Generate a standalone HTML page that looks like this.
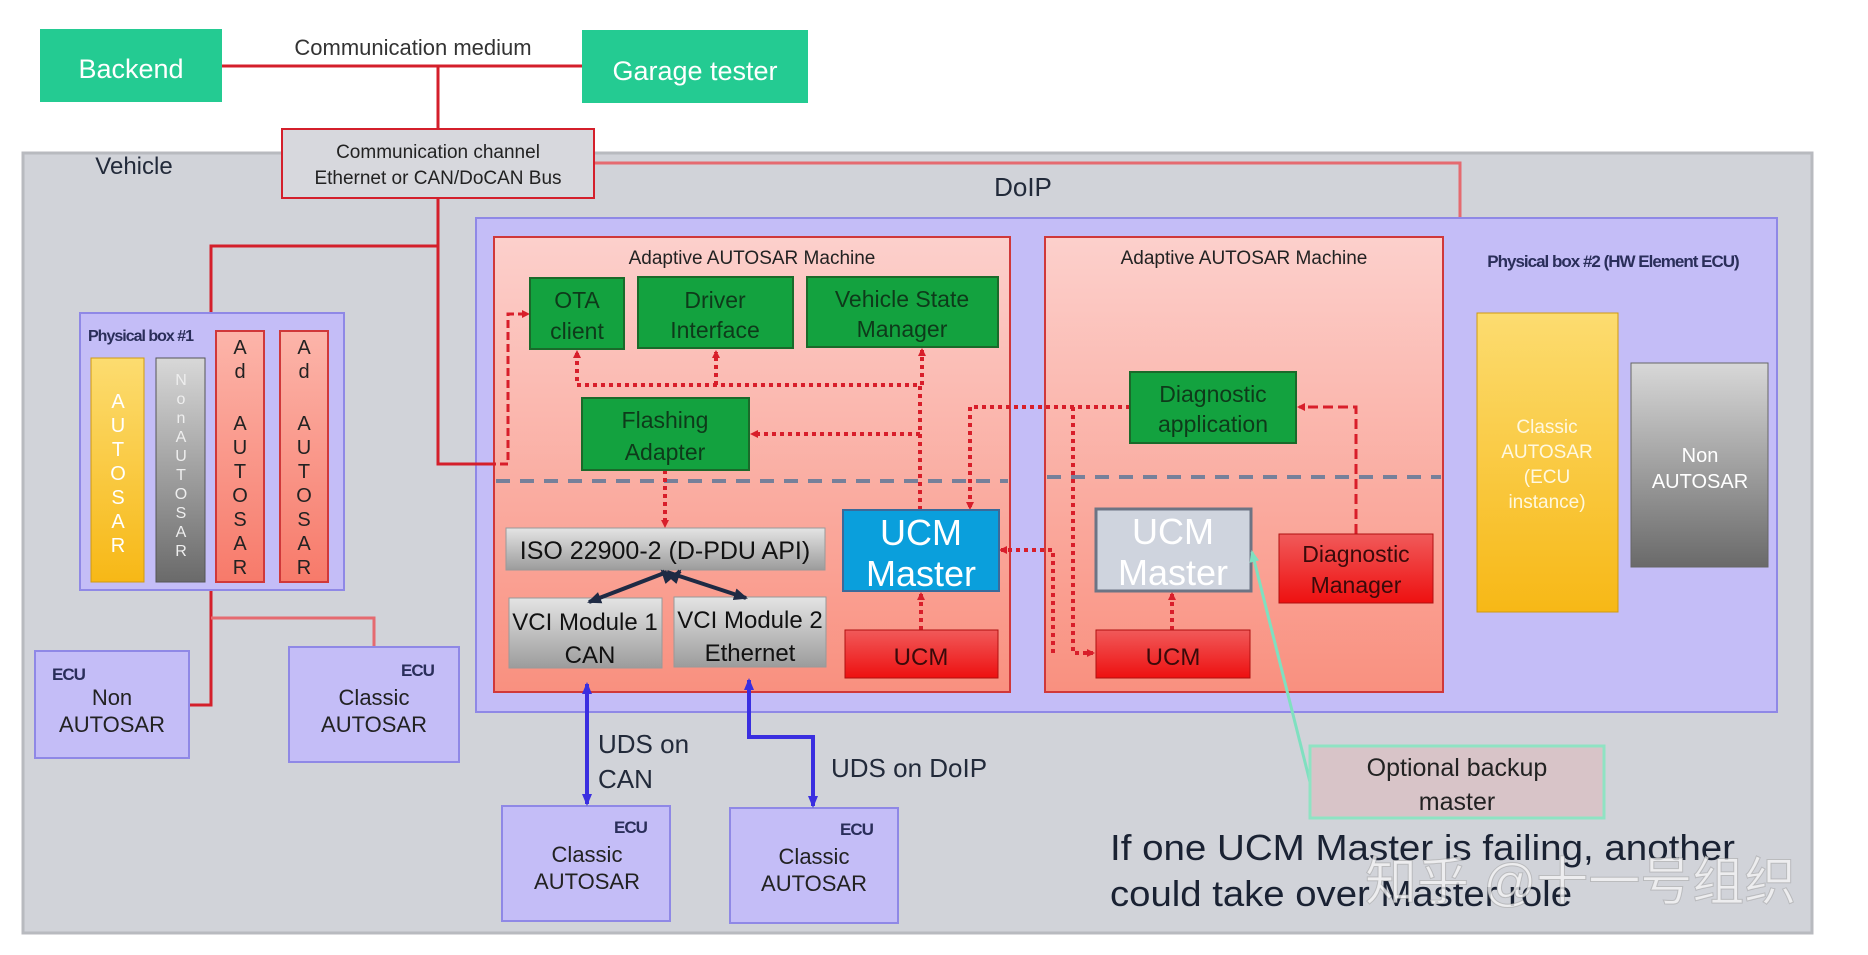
<!DOCTYPE html>
<html><head><meta charset="utf-8"><style>
html,body{margin:0;padding:0;background:#fff;width:1868px;height:955px;overflow:hidden}
svg text{font-family:"Liberation Sans","Noto Sans CJK SC",sans-serif}
</style></head><body>
<svg width="1868" height="955" viewBox="0 0 1868 955" xmlns="http://www.w3.org/2000/svg">
<defs>
<linearGradient id="mach" x1="0" y1="0" x2="0" y2="1"><stop offset="0" stop-color="#fcd0cc"/><stop offset="1" stop-color="#f9907f"/></linearGradient>
<linearGradient id="redg" x1="0" y1="0" x2="0" y2="1"><stop offset="0" stop-color="#f05a5a"/><stop offset="1" stop-color="#ee1010"/></linearGradient>
<linearGradient id="grayg" x1="0" y1="0" x2="0" y2="1"><stop offset="0" stop-color="#e4e4e4"/><stop offset="1" stop-color="#9c9c9c"/></linearGradient>
<linearGradient id="yel" x1="0" y1="0" x2="0" y2="1"><stop offset="0" stop-color="#fcdc70"/><stop offset="1" stop-color="#f7b816"/></linearGradient>
<linearGradient id="gray2" x1="0" y1="0" x2="0" y2="1"><stop offset="0" stop-color="#d8d8d8"/><stop offset="1" stop-color="#6a6a6a"/></linearGradient>
<linearGradient id="redcol" x1="0" y1="0" x2="0" y2="1"><stop offset="0" stop-color="#fcb5aa"/><stop offset="1" stop-color="#f77a6a"/></linearGradient>
<marker id="ar" markerWidth="8" markerHeight="8" refX="6" refY="4" orient="auto" markerUnits="userSpaceOnUse"><path d="M0,0 L8,4 L0,8 z" fill="#d81e2a"/></marker>
<marker id="ab" markerWidth="12" markerHeight="12" refX="10" refY="6" orient="auto" markerUnits="userSpaceOnUse"><path d="M0,1 L12,6 L0,11 z" fill="#3a2ee0"/></marker>
<marker id="ab0" markerWidth="12" markerHeight="12" refX="2" refY="6" orient="auto" markerUnits="userSpaceOnUse"><path d="M12,1 L0,6 L12,11 z" fill="#3a2ee0"/></marker>
<marker id="ak" markerWidth="14" markerHeight="14" refX="12" refY="7" orient="auto" markerUnits="userSpaceOnUse"><path d="M0,1 L14,7 L0,13 z" fill="#1e2a44"/></marker>
<marker id="at" markerWidth="12" markerHeight="12" refX="10" refY="6" orient="auto" markerUnits="userSpaceOnUse"><path d="M0,1 L12,6 L0,11 z" fill="#7fe0c0"/></marker>
</defs>

<rect x="23" y="153" width="1789" height="780" fill="#d1d3d9" stroke="#b8babf" stroke-width="3"/>
<text x="134" y="174" font-size="24" text-anchor="middle" fill="#222a3a">Vehicle</text>

<line x1="222" y1="66" x2="582" y2="66" stroke="#d41f2b" stroke-width="3"/>
<line x1="438" y1="66" x2="438" y2="129" stroke="#d41f2b" stroke-width="3"/>
<rect x="40" y="29" width="182" height="73" fill="#24cb92"/>
<text x="131" y="78" font-size="27" text-anchor="middle" fill="#fff">Backend</text>
<rect x="582" y="30" width="226" height="73" fill="#24cb92"/>
<text x="695" y="80" font-size="27" text-anchor="middle" fill="#fff">Garage tester</text>
<text x="413" y="55" font-size="22" text-anchor="middle" fill="#333">Communication medium</text>

<polyline points="594,163 1460,163 1460,567 1433,567" fill="none" stroke="#e56a70" stroke-width="3"/>

<rect x="282" y="129" width="312" height="69" fill="#d7d8dd" stroke="#d41f2b" stroke-width="2"/>
<text x="438" y="158" font-size="19" text-anchor="middle" fill="#222">Communication channel</text>
<text x="438" y="184" font-size="19" text-anchor="middle" fill="#222">Ethernet or CAN/DoCAN Bus</text>

<text x="1023" y="196" font-size="26" text-anchor="middle" fill="#222a3a">DoIP</text>

<rect x="476" y="218" width="1301" height="494" fill="#c4bdf7" stroke="#8f88e6" stroke-width="2"/>

<polyline points="438,198 438,464 494,464" fill="none" stroke="#d41f2b" stroke-width="3"/>
<polyline points="438,246 211,246 211,313" fill="none" stroke="#d41f2b" stroke-width="3"/>

<rect x="494" y="237" width="516" height="455" fill="url(#mach)" stroke="#d0383a" stroke-width="2"/>
<text x="752" y="264" font-size="19" text-anchor="middle" fill="#222">Adaptive AUTOSAR Machine</text>
<rect x="1045" y="237" width="398" height="455" fill="url(#mach)" stroke="#d0383a" stroke-width="2"/>
<text x="1244" y="264" font-size="19" text-anchor="middle" fill="#222">Adaptive AUTOSAR Machine</text>

<line x1="496" y1="481" x2="1008" y2="481" stroke="#76809a" stroke-width="4" stroke-dasharray="14,10"/>
<line x1="1047" y1="477" x2="1441" y2="477" stroke="#76809a" stroke-width="4" stroke-dasharray="14,10"/>

<polyline points="488,464 508,464 508,314 528,314" fill="none" stroke="#d81e2a" stroke-width="3" stroke-dasharray="8,4" marker-end="url(#ar)"/>

<g fill="none" stroke="#d81e2a" stroke-width="4" stroke-dasharray="4,4">
<polyline points="920,510 920,385 577,385 577,352" marker-end="url(#ar)"/>
<line x1="716" y1="385" x2="716" y2="352" marker-end="url(#ar)"/>
<line x1="922" y1="385" x2="922" y2="350" marker-end="url(#ar)"/>
<line x1="920" y1="434" x2="752" y2="434" marker-end="url(#ar)"/>
<line x1="665" y1="470" x2="665" y2="526" marker-end="url(#ar)"/>
<line x1="921" y1="630" x2="921" y2="594" marker-end="url(#ar)"/>
<polyline points="1130,407 970,407 970,508" marker-end="url(#ar)"/>
<polyline points="1073,407 1073,653 1093,653" marker-end="url(#ar)"/>
<polyline points="1053,653 1053,550 1001,550" marker-end="url(#ar)"/>
<line x1="1172" y1="630" x2="1172" y2="594" marker-end="url(#ar)"/>
</g>
<polyline points="1356,534 1356,407 1299,407" fill="none" stroke="#d81e2a" stroke-width="3" stroke-dasharray="10,5" marker-end="url(#ar)"/>

<g stroke="#1a6a2a" stroke-width="2" fill="#13a23f">
<rect x="530" y="278" width="94" height="71"/>
<rect x="638" y="277" width="155" height="71"/>
<rect x="807" y="277" width="191" height="70"/>
<rect x="582" y="398" width="167" height="72"/>
<rect x="1130" y="372" width="166" height="71"/>
</g>
<g font-size="23" text-anchor="middle" fill="#0e3a1a">
<text x="577" y="308">OTA</text><text x="577" y="339">client</text>
<text x="715" y="308">Driver</text><text x="715" y="338">Interface</text>
<text x="902" y="307">Vehicle State</text><text x="902" y="337">Manager</text>
<text x="665" y="428">Flashing</text><text x="665" y="460">Adapter</text>
<text x="1213" y="402">Diagnostic</text><text x="1213" y="432">application</text>
</g>

<rect x="506" y="528" width="319" height="42" fill="url(#grayg)" stroke="#999" stroke-width="1"/>
<text x="665" y="559" font-size="25" text-anchor="middle" fill="#111">ISO 22900-2 (D-PDU API)</text>
<rect x="509" y="598" width="153" height="70" fill="url(#grayg)" stroke="#999"/>
<rect x="674" y="597" width="152" height="70" fill="url(#grayg)" stroke="#999"/>
<text x="585" y="630" font-size="24" text-anchor="middle" fill="#111">VCI Module 1</text>
<text x="590" y="663" font-size="24" text-anchor="middle" fill="#111">CAN</text>
<text x="750" y="628" font-size="24" text-anchor="middle" fill="#111">VCI Module 2</text>
<text x="750" y="661" font-size="24" text-anchor="middle" fill="#111">Ethernet</text>
<line x1="667" y1="572" x2="589" y2="602" stroke="#1e2a44" stroke-width="4" marker-end="url(#ak)"/>
<line x1="667" y1="572" x2="746" y2="598" stroke="#1e2a44" stroke-width="4" marker-end="url(#ak)"/>
<line x1="670" y1="580" x2="662" y2="571" stroke="#1e2a44" stroke-width="4" marker-end="url(#ak)"/>
<line x1="672" y1="580" x2="680" y2="571" stroke="#1e2a44" stroke-width="4" marker-end="url(#ak)"/>

<rect x="843" y="510" width="156" height="81" fill="#0a9fdc" stroke="#3a6a9a" stroke-width="2"/>
<text x="921" y="545" font-size="36" text-anchor="middle" fill="#fff">UCM</text>
<text x="921" y="586" font-size="36" text-anchor="middle" fill="#fff">Master</text>
<rect x="845" y="630" width="153" height="48" fill="url(#redg)" stroke="#b01010"/>
<text x="921" y="665" font-size="24" text-anchor="middle" fill="#3a0a0a">UCM</text>
<rect x="1096" y="509" width="155" height="82" fill="#cfd4de" stroke="#6c7484" stroke-width="3"/>
<text x="1173" y="544" font-size="36" text-anchor="middle" fill="#fff">UCM</text>
<text x="1173" y="585" font-size="36" text-anchor="middle" fill="#fff">Master</text>
<rect x="1096" y="630" width="154" height="48" fill="url(#redg)" stroke="#b01010"/>
<text x="1173" y="665" font-size="24" text-anchor="middle" fill="#3a0a0a">UCM</text>
<rect x="1279" y="534" width="154" height="69" fill="url(#redg)" stroke="#b01010"/>
<text x="1356" y="562" font-size="23" text-anchor="middle" fill="#3a0a0a">Diagnostic</text>
<text x="1356" y="593" font-size="23" text-anchor="middle" fill="#3a0a0a">Manager</text>

<text x="1613" y="267" font-size="17" font-weight="bold" text-anchor="middle" fill="#2a2e5a" letter-spacing="-1">Physical box #2 (HW Element ECU)</text>
<rect x="1477" y="313" width="141" height="299" fill="url(#yel)" stroke="#d09a10"/>
<g font-size="19" text-anchor="middle" fill="#fff8e0">
<text x="1547" y="433">Classic</text><text x="1547" y="458">AUTOSAR</text><text x="1547" y="483">(ECU</text><text x="1547" y="508">instance)</text>
</g>
<rect x="1631" y="363" width="137" height="204" fill="url(#gray2)" stroke="#666"/>
<text x="1700" y="462" font-size="20" text-anchor="middle" fill="#fff">Non</text>
<text x="1700" y="488" font-size="20" text-anchor="middle" fill="#fff">AUTOSAR</text>

<polyline points="211,590 211,705 189,705" fill="none" stroke="#d41f2b" stroke-width="3"/>
<polyline points="211,618 374,618 374,648" fill="none" stroke="#e56a70" stroke-width="3"/>
<rect x="80" y="313" width="264" height="277" fill="#c4bdf7" stroke="#8f88e6" stroke-width="2"/>
<text x="88" y="341" font-size="16" font-weight="bold" fill="#2a2e5a" letter-spacing="-1">Physical box #1</text>
<rect x="91" y="358" width="53" height="224" fill="url(#yel)" stroke="#d09a10"/>
<rect x="156" y="358" width="49" height="224" fill="url(#gray2)" stroke="#555"/>
<rect x="216" y="331" width="48" height="251" fill="url(#redcol)" stroke="#d0383a" stroke-width="2"/>
<rect x="280" y="331" width="48" height="251" fill="url(#redcol)" stroke="#d0383a" stroke-width="2"/>
<g font-size="20" text-anchor="middle" fill="#fff">
<text x="118" y="408">A</text><text x="118" y="432">U</text><text x="118" y="456">T</text><text x="118" y="480">O</text><text x="118" y="504">S</text><text x="118" y="528">A</text><text x="118" y="552">R</text>
</g>
<g font-size="16" text-anchor="middle" fill="#eee">
<text x="181" y="385">N</text><text x="181" y="404">o</text><text x="181" y="423">n</text><text x="181" y="442">A</text><text x="181" y="461">U</text><text x="181" y="480">T</text><text x="181" y="499">O</text><text x="181" y="518">S</text><text x="181" y="537">A</text><text x="181" y="556">R</text>
</g>
<g font-size="20" text-anchor="middle" fill="#222">
<text x="240" y="354">A</text><text x="240" y="378">d</text><text x="240" y="430">A</text><text x="240" y="454">U</text><text x="240" y="478">T</text><text x="240" y="502">O</text><text x="240" y="526">S</text><text x="240" y="550">A</text><text x="240" y="574">R</text>
<text x="304" y="354">A</text><text x="304" y="378">d</text><text x="304" y="430">A</text><text x="304" y="454">U</text><text x="304" y="478">T</text><text x="304" y="502">O</text><text x="304" y="526">S</text><text x="304" y="550">A</text><text x="304" y="574">R</text>
</g>

<g fill="#c4bdf7" stroke="#8f88e6" stroke-width="2">
<rect x="35" y="651" width="154" height="107"/>
<rect x="289" y="647" width="170" height="115"/>
<rect x="502" y="806" width="168" height="115"/>
<rect x="730" y="808" width="168" height="115"/>
</g>
<g font-size="17" font-weight="bold" fill="#2a2e5a" letter-spacing="-1">
<text x="52" y="680">ECU</text><text x="401" y="676">ECU</text><text x="614" y="833">ECU</text><text x="840" y="835">ECU</text>
</g>
<g font-size="22" text-anchor="middle" fill="#222">
<text x="112" y="705">Non</text><text x="112" y="732">AUTOSAR</text>
<text x="374" y="705">Classic</text><text x="374" y="732">AUTOSAR</text>
<text x="587" y="862">Classic</text><text x="587" y="889">AUTOSAR</text>
<text x="814" y="864">Classic</text><text x="814" y="891">AUTOSAR</text>
</g>

<line x1="587" y1="684" x2="587" y2="804" stroke="#3a2ee0" stroke-width="4" marker-start="url(#ab0)" marker-end="url(#ab)"/>
<polyline points="749,680 749,737 813,737 813,806" fill="none" stroke="#3a2ee0" stroke-width="4" marker-start="url(#ab0)" marker-end="url(#ab)"/>
<text x="598" y="753" font-size="26" fill="#222a3a">UDS on</text>
<text x="598" y="788" font-size="26" fill="#222a3a">CAN</text>
<text x="831" y="777" font-size="26" fill="#222a3a">UDS on DoIP</text>

<line x1="1310" y1="782" x2="1252" y2="552" stroke="#7fe0c0" stroke-width="3" marker-end="url(#at)"/>
<rect x="1310" y="746" width="294" height="72" fill="#d8c4c8" stroke="#8fe3c3" stroke-width="3"/>
<text x="1457" y="776" font-size="25" text-anchor="middle" fill="#222">Optional backup</text>
<text x="1457" y="810" font-size="25" text-anchor="middle" fill="#222">master</text>

<text x="1110" y="860" font-size="36" fill="#1a2233" textLength="625" lengthAdjust="spacingAndGlyphs">If one UCM Master is failing, another</text>
<text x="1110" y="906" font-size="36" fill="#1a2233" textLength="462" lengthAdjust="spacingAndGlyphs">could take over Master role</text>
<text x="1365" y="900" font-size="52" fill="#f4f4f4" fill-opacity="0.8" stroke="#777" stroke-opacity="0.35" stroke-width="1">知乎 @十一号组织</text>
</svg>
</body></html>
